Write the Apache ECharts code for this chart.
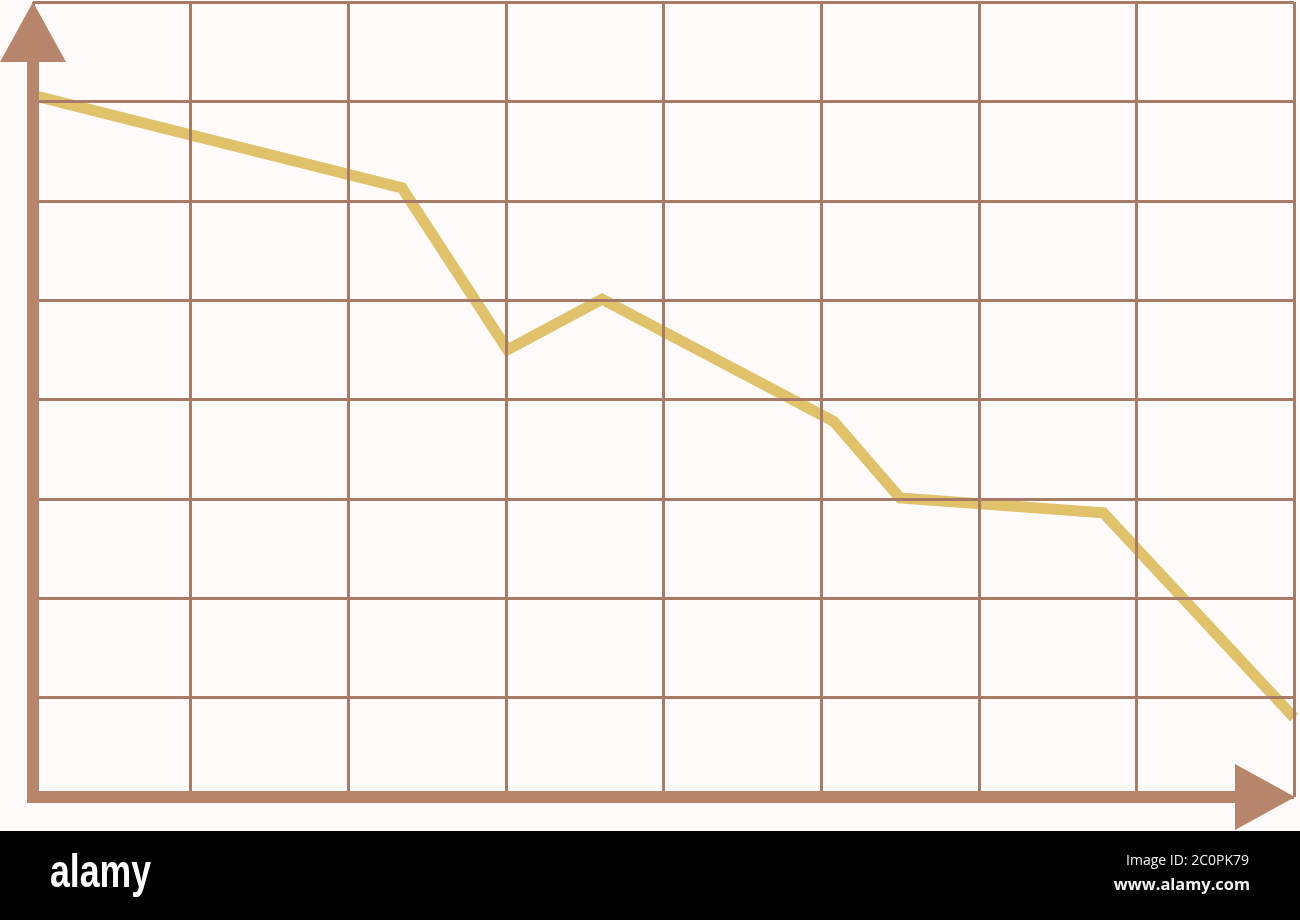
<!DOCTYPE html>
<html>
<head>
<meta charset="UTF-8"/>
<title>Falling line chart</title>
<script src="https://cdn.jsdelivr.net/npm/echarts@6/dist/echarts.min.js"></script>
<style>
	html, body { margin: 0; padding: 0; background: #000; }
	#chart { width: 1300px; height: 920px; }
</style>
</head>
<body>
<div id="chart"></div>
<script type="text/javascript">
	// points of the falling line (x and y in grid cells)
	var pointX = [0.00, 2.34, 3.01, 3.61, 5.08, 5.50, 6.79, 8.00];
	var pointY = [7.06, 6.13, 4.50, 5.01, 3.78, 3.01, 2.86, 0.80];
	// grid is 8 x 8 cells
	var cellsX = 8;
	var cellsY = 8;

	var lineData = [];
	for (var i = 0; i < pointX.length; i++) {
		lineData.push([pointX[i], pointY[i]]);
	}

	var axisColor = '#b7856c';
	var gridColor = '#a87b66';

	// axis that only draws the grid lines
	function gridAxis(max) {
		return {
			type: 'value',
			gridIndex: 0,
			min: 0,
			max: max,
			interval: 1,
			z: 2,
			axisLine: { show: false },
			axisTick: { show: false },
			axisLabel: { show: false },
			splitLine: {
				show: true,
				lineStyle: { color: gridColor, width: 3 }
			}
		};
	}
	// axis that only draws the thick arrow
	function arrowAxis() {
		return {
			type: 'value',
			gridIndex: 1,
			min: 0,
			max: 1,
			z: 3,
			axisLine: {
				show: true,
				symbol: ['none', 'triangle'],
				symbolSize: [66, 60],
				lineStyle: { color: axisColor, width: 12, cap: 'square' }
			},
			axisTick: { show: false },
			axisLabel: { show: false },
			splitLine: { show: false }
		};
	}

	var myChart = echarts.init(document.getElementById('chart'));
	var option = {
		backgroundColor: '#fffbfa',
		animation: false,
		grid: [
			{ left: 33, right: 6, top: 2, bottom: 123 },
			{ left: 33, right: 35, top: 32, bottom: 123 }
		],
		xAxis: [gridAxis(cellsX), arrowAxis()],
		yAxis: [gridAxis(cellsY), arrowAxis()],
		series: [{
			type: 'line',
			xAxisIndex: 0,
			yAxisIndex: 0,
			data: lineData,
			symbol: 'none',
			silent: true,
			z: 1,
			lineStyle: {
				color: '#dfc26a',
				width: 11,
				join: 'miter'
			}
		}],
		graphic: [
			{
				type: 'rect',
				left: 0,
				top: 831,
				silent: true,
				shape: { width: 1300, height: 89 },
				style: { fill: '#000' }
			},
			{
				type: 'text',
				x: 50,
				y: 874,
				scaleX: 0.775,
				silent: true,
				style: {
					text: 'alamy',
					font: 'bold 46px "Liberation Sans", Arial, sans-serif',
					fill: '#ffffff',
					verticalAlign: 'middle'
				}
			},
			{
				type: 'text',
				x: 1249,
				y: 861,
				silent: true,
				style: {
					text: 'Image ID: 2C0PK79',
					font: '14px "Open Sans", sans-serif',
					fill: '#f2f2f2',
					align: 'right',
					verticalAlign: 'middle'
				}
			},
			{
				type: 'text',
				x: 1250,
				y: 885,
				silent: true,
				style: {
					text: 'www.alamy.com',
					font: 'bold 16.4px "Open Sans", sans-serif',
					fill: '#f2f2f2',
					align: 'right',
					verticalAlign: 'middle'
				}
			}
		]
	};
	myChart.setOption(option);
</script>
</body>
</html>
